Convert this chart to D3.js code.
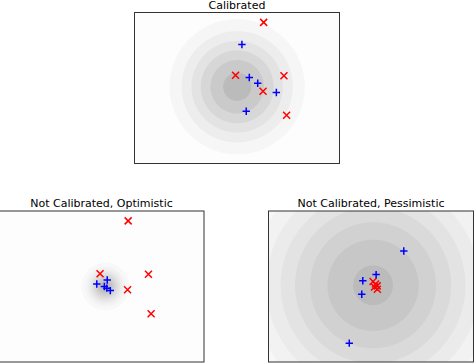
<!DOCTYPE html>
<html lang="en">
<head>
    <meta charset="UTF-8">
    <title>Calibration</title>
    <script src="https://cdn.jsdelivr.net/npm/d3@7"></script>
    <style>
        body { margin: 0; background: #fff; }
        svg { display: block; }
        .title { font-family: "DejaVu Sans", sans-serif; font-size: 11px; fill: #000; text-anchor: middle; }
    </style>
</head>
<body>
    <svg id="chart" width="474" height="363"></svg>

    <script>
        // panel titles
        const titles = ['Calibrated', 'Not Calibrated, Optimistic', 'Not Calibrated, Pessimistic'];

        // predicted distribution per panel (mean, spread), in data units
        const predMeans = [[0.01, 0.06], [0.19, 0.0], [0.10, 0.06]];
        const predSigmas = [1.95, 0.54, 4.4];

        // contour levels as a fraction of the peak density
        const calibratedLevels = [0.24, 0.38, 0.52, 0.66, 0.80, 0.94];
        const optimisticLevels = [0.1, 0.2, 0.3, 0.4, 0.5, 0.6, 0.7, 0.8, 0.9];
        const pessimisticLevels = [0.304, 0.40, 0.496, 0.592, 0.688, 0.784, 0.88, 0.976];

        // observed points (red x)
        const observed = [[1.30, 3.20], [-0.07, 0.62], [2.29, 0.60], [1.27, -0.16], [2.42, -1.33]];
        const pessimisticObserved = [[0.10, 0.24], [0.22, 0.12], [0.30, 0.03], [0.17, -0.02], [0.31, -0.13]];

        // predicted samples (blue +)
        const calibratedSamples = [[0.24, 2.12], [0.60, 0.51], [1.01, 0.23], [1.92, -0.22], [0.45, -1.13]];
        const optimisticSamples = [[-0.23, 0.12], [0.28, 0.32], [0.14, 0.0], [0.26, -0.08], [0.43, -0.20]];
        const pessimisticSamples = [[1.60, 1.73], [0.25, 0.58], [-0.40, 0.28], [-0.45, -0.38], [-1.06, -2.76]];

        const panels = [
            { x0: 134.5, y0: 12.5, levels: calibratedLevels, obs: observed, samples: calibratedSamples },
            { x0: -1, y0: 211, levels: optimisticLevels, obs: observed, samples: optimisticSamples },
            { x0: 268.5, y0: 211, levels: pessimisticLevels, obs: pessimisticObserved, samples: pessimisticSamples }
        ];

        const W = 205, H = 151;
        const xDomain = [-5, 5], yDomain = [-3.68, 3.68];
        const nx = W, ny = H;

        const svg = d3.select('#chart');

        panels.forEach((p, i) => {
            const g = svg.append('g').attr('transform', `translate(${p.x0},${p.y0})`);
            const x = d3.scaleLinear().domain(xDomain).range([0, W]);
            const y = d3.scaleLinear().domain(yDomain).range([H, 0]);

            const clipId = 'clip' + i;
            g.append('clipPath').attr('id', clipId)
                .append('rect').attr('width', W).attr('height', H);

            // density grid, grid cell -> data coordinate
            const gx = d3.scaleLinear().domain([0, nx]).range(xDomain);
            const gy = d3.scaleLinear().domain([0, ny]).range([yDomain[1], yDomain[0]]);
            const [mx, my] = predMeans[i];
            const s = predSigmas[i];
            const values = new Array(nx * ny);
            for (let r = 0; r < ny; r++) {
                for (let c = 0; c < nx; c++) {
                    const dx = gx(c + 0.5) - mx, dy = gy(r + 0.5) - my;
                    values[r * nx + c] = Math.exp(-(dx * dx + dy * dy) / (2 * s * s));
                }
            }

            const n = p.levels.length;
            const shade = k => d3.interpolateGreys(0.015 + 0.36 * k / n);

            const proj = d3.geoTransform({
                point: function(px, py) { this.stream.point(x(gx(px)), y(gy(py))); }
            });
            const path = d3.geoPath(proj);

            const layer = g.append('g').attr('clip-path', `url(#${clipId})`);
            layer.append('rect').attr('width', W).attr('height', H).attr('fill', shade(0));

            const contours = d3.contours().size([nx, ny]).thresholds(p.levels)(values);
            layer.selectAll('path.band')
                .data(contours)
                .enter().append('path')
                .attr('class', 'band')
                .attr('d', path)
                .attr('fill', (d, k) => shade(k + 1));

            // observed: red x
            layer.selectAll('path.obs')
                .data(p.obs)
                .enter().append('path')
                .attr('class', 'obs')
                .attr('transform', d => `translate(${x(d[0])},${y(d[1])})`)
                .attr('d', 'M-3.5,-3.5L3.5,3.5M-3.5,3.5L3.5,-3.5')
                .attr('stroke', 'red')
                .attr('stroke-width', 1.5)
                .attr('fill', 'none');

            // samples: blue +
            layer.selectAll('path.sample')
                .data(p.samples)
                .enter().append('path')
                .attr('class', 'sample')
                .attr('transform', d => `translate(${x(d[0])},${y(d[1])})`)
                .attr('d', 'M-3.7,0H3.7M0,-3.7V3.7')
                .attr('stroke', 'blue')
                .attr('stroke-width', 1.5)
                .attr('fill', 'none');

            g.append('rect')
                .attr('width', W).attr('height', H)
                .attr('fill', 'none')
                .attr('stroke', '#333')
                .attr('stroke-width', 1);

            g.append('text')
                .attr('class', 'title')
                .attr('x', W / 2)
                .attr('y', -3.6)
                .text(titles[i]);
        });
    </script>
</body>
</html>
